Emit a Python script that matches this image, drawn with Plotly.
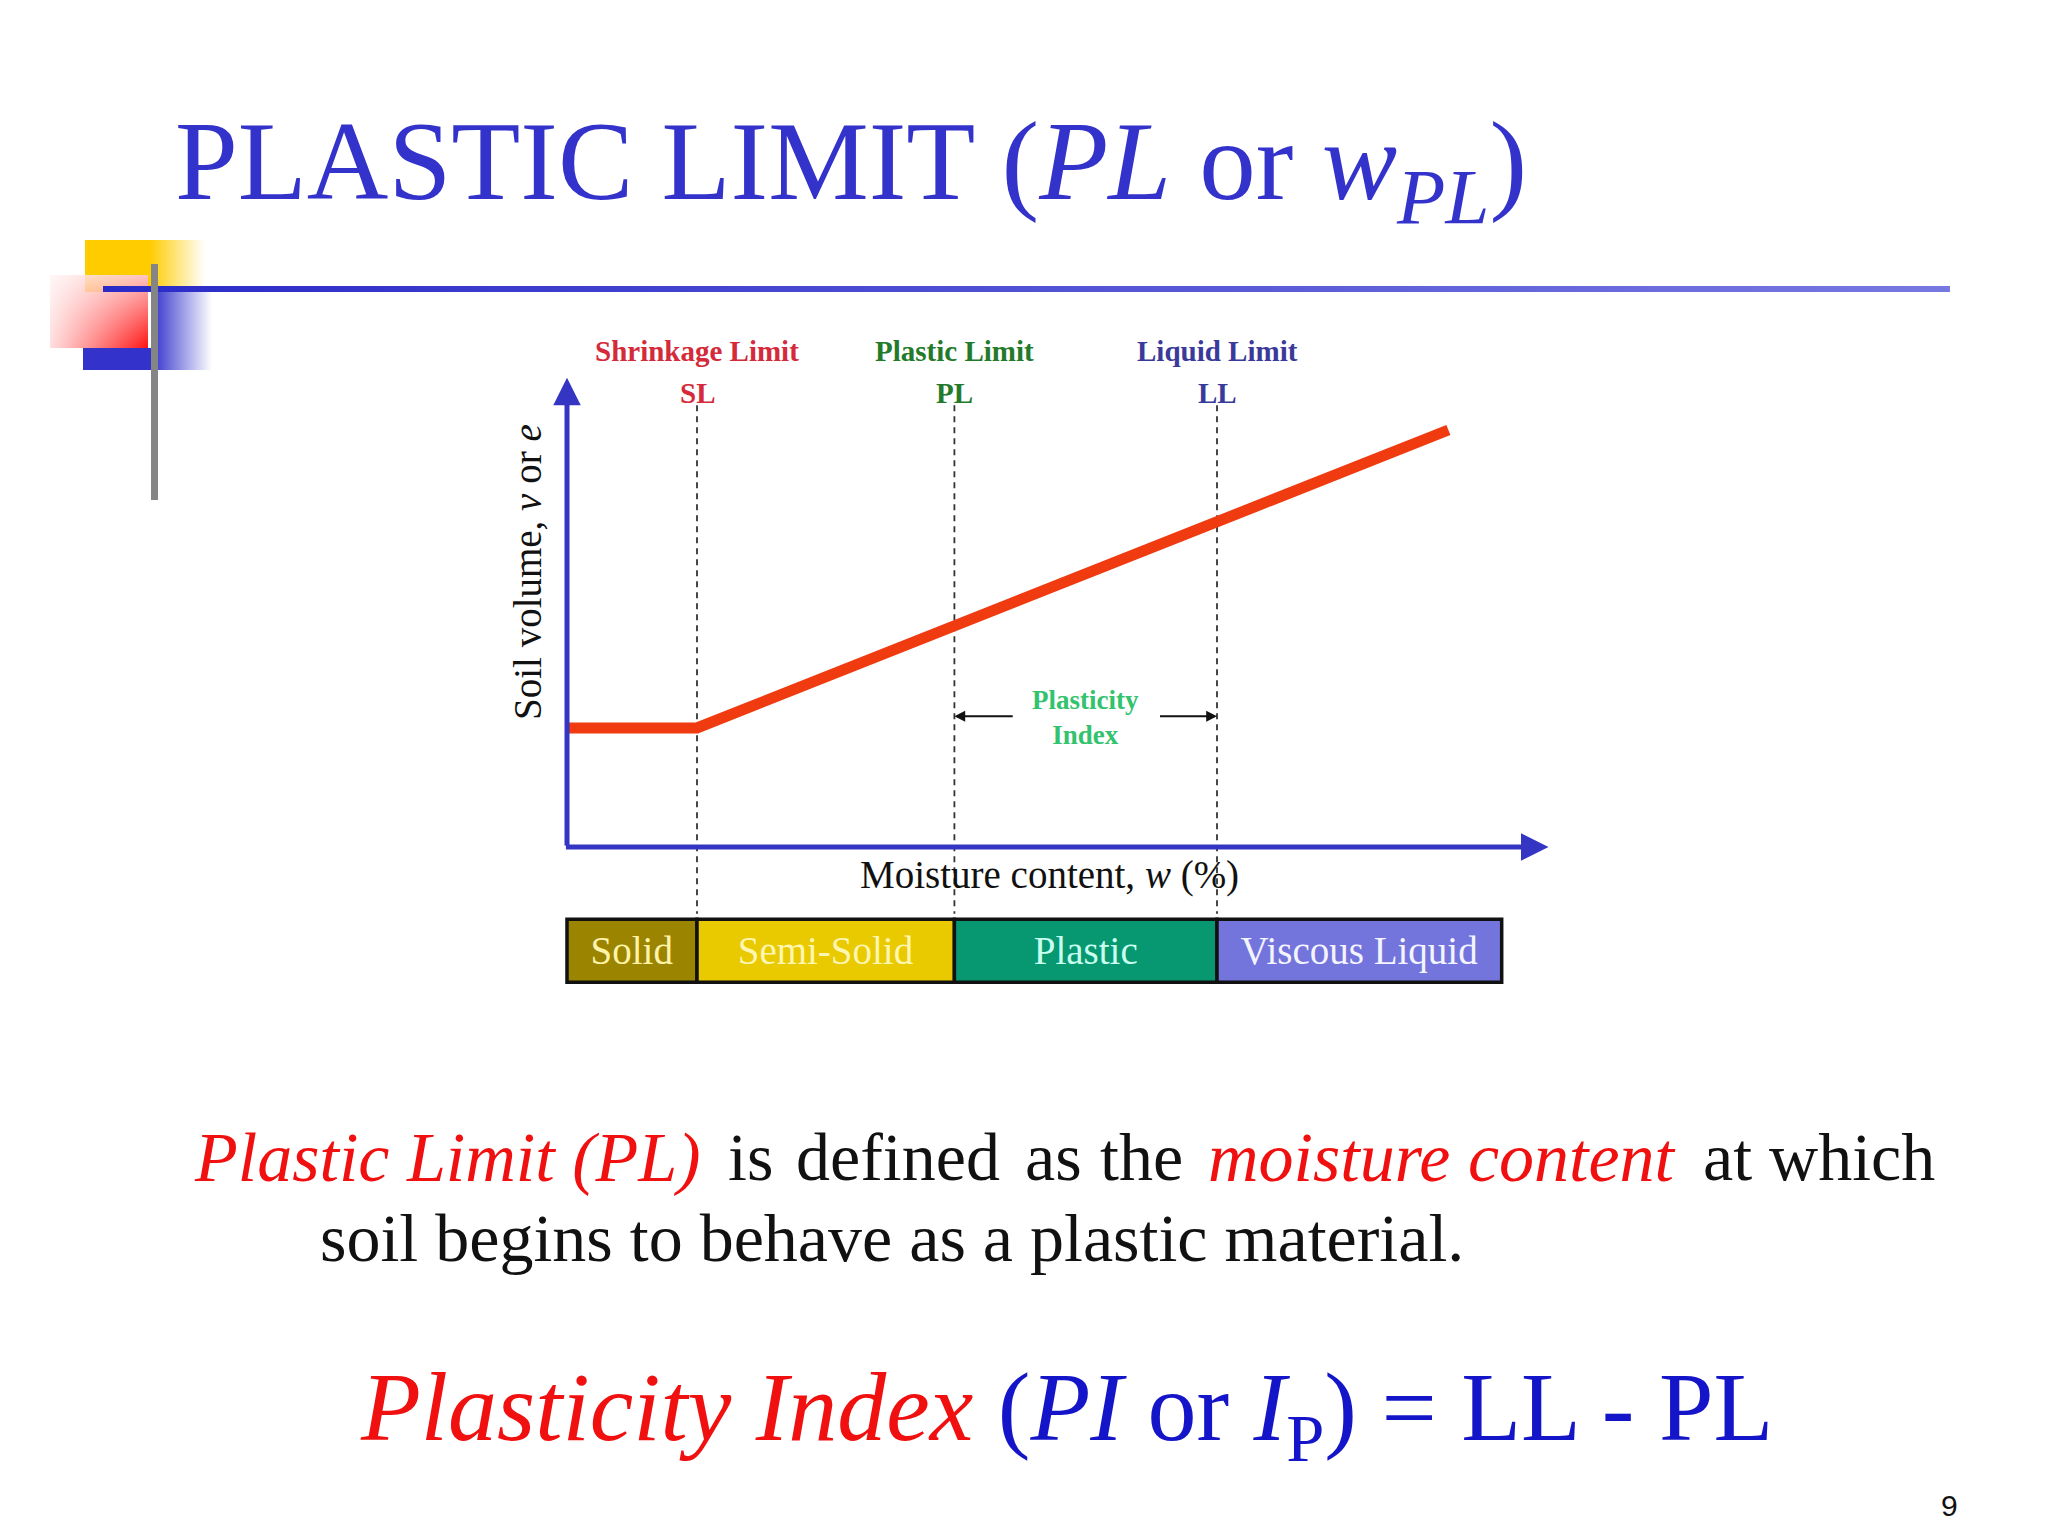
import plotly.graph_objects as go

# limits on the moisture-content axis (arbitrary units)
limit_abbr = ["SL", "PL", "LL"]
limit_names = ["Shrinkage Limit", "Plastic Limit", "Liquid Limit"]
limit_colors = ["#D42A3A", "#237A2A", "#3A3A9A"]
limit_w = [10.0, 29.8, 50.0]

# soil volume curve
curve_w = [0.0, 10.0, 67.8]
curve_v = [2.55, 2.55, 8.93]

# state bar below the axis
states = ["Solid", "Semi-Solid", "Plastic", "Viscous Liquid"]
state_start = [0.0, 10.0, 29.8, 50.0]
state_end = [10.0, 29.8, 50.0, 71.9]
state_colors = ["#9B8400", "#E9C900", "#079872", "#7474DD"]
state_text_colors = ["#FFF3A8", "#FFF6B0", "#C8FFEE", "#F4F4FF"]

W, H = 2048, 1536
SERIF = "Liberation Serif"
AXIS_BLUE = "#3535C4"

fig = go.Figure()

# ---------- page decorations (pixel coords on x2/y2) ----------
def grad_rect(x0, x1, y0, y1, kind, c0, c1):
    fig.add_trace(go.Scatter(
        x=[x0, x1, x1, x0, x0], y=[y0, y0, y1, y1, y0],
        xaxis="x2", yaxis="y2", mode="lines", line=dict(width=0),
        fill="toself", fillgradient=dict(type=kind, colorscale=[[0, c0], [1, c1]]),
        hoverinfo="skip"))

grad_rect(85, 150, 240, 292, "horizontal", "rgba(255,204,0,1)", "rgba(255,204,0,1)")
grad_rect(150, 205, 240, 292, "horizontal", "rgba(255,204,0,1)", "rgba(255,204,0,0)")
grad_rect(50, 148, 275, 348, "horizontal", "rgba(255,40,40,0.15)", "rgba(255,20,20,1)")
grad_rect(50, 148, 275, 348, "vertical", "rgba(255,255,255,0)", "rgba(255,255,255,0.75)")
grad_rect(83, 152, 348, 370, "horizontal", "rgba(51,51,204,1)", "rgba(51,51,204,1)")
grad_rect(152, 212, 292, 370, "horizontal", "rgba(51,51,204,1)", "rgba(51,51,204,0)")
grad_rect(103, 1950, 286, 292, "horizontal", "rgba(42,42,200,1)", "rgba(120,120,225,1)")

# ---------- chart ----------
for w in limit_w:
    fig.add_trace(go.Scatter(
        x=[w, w], y=[9.46, -1.43], mode="lines",
        line=dict(color="#333333", width=1.8, dash="6px,5px"), hoverinfo="skip"))

fig.add_trace(go.Scatter(
    x=curve_w, y=curve_v, mode="lines",
    line=dict(color="#F03A10", width=11), hoverinfo="skip"))

fig.add_trace(go.Bar(
    orientation="h", y=[-2.22] * len(states), base=state_start,
    x=[e - s for s, e in zip(state_start, state_end)], width=1.35,
    marker=dict(color=state_colors, line=dict(color="#111111", width=3.5)),
    text=states, textposition="inside", insidetextanchor="middle",
    constraintext="none",
    textfont=dict(family=SERIF, size=39, color=state_text_colors),
    hoverinfo="skip"))

ann = []
# axes with arrow heads
ann.append(dict(x=0, y=10.05, ax=0, ay=0, xref="x", yref="y", axref="x", ayref="y",
                text="", showarrow=True, arrowhead=2, arrowsize=1.1, arrowwidth=5,
                arrowcolor=AXIS_BLUE, standoff=0))
ann.append(dict(x=75.5, y=0, ax=-0.2, ay=0, xref="x", yref="y", axref="x", ayref="y",
                text="", showarrow=True, arrowhead=2, arrowsize=1.1, arrowwidth=5,
                arrowcolor=AXIS_BLUE, standoff=0))

for name, abbr, col, w in zip(limit_names, limit_abbr, limit_colors, limit_w):
    ann.append(dict(x=w, y=10.62, xref="x", yref="y", text="<b>%s</b>" % name,
                    showarrow=False, font=dict(family=SERIF, size=29, color=col)))
    ann.append(dict(x=w, y=9.72, xref="x", yref="y", text="<b>%s</b>" % abbr,
                    showarrow=False, font=dict(family=SERIF, size=29, color=col)))

mid = (limit_w[1] + limit_w[2]) / 2
ann.append(dict(x=mid, y=2.78, xref="x", yref="y", text="<b>Plasticity<br>Index</b>",
                showarrow=False, font=dict(family=SERIF, size=27, color="#33C26E")))
ann.append(dict(x=limit_w[1], y=2.8, ax=34.4, ay=2.8, xref="x", yref="y",
                axref="x", ayref="y", text="", showarrow=True, arrowhead=2,
                arrowsize=1.2, arrowwidth=1.8, arrowcolor="#111111", standoff=0))
ann.append(dict(x=limit_w[2], y=2.8, ax=45.5, ay=2.8, xref="x", yref="y",
                axref="x", ayref="y", text="", showarrow=True, arrowhead=2,
                arrowsize=1.2, arrowwidth=1.8, arrowcolor="#111111", standoff=0))

ann.append(dict(x=37.1, y=-0.6, xref="x", yref="y",
                text="Moisture content, <i>w</i> (%)", showarrow=False,
                font=dict(family=SERIF, size=39, color="#111111")))
ann.append(dict(x=-3.0, y=5.89, xref="x", yref="y", textangle=-90,
                text="Soil volume, <i>v</i> or <i>e</i>", showarrow=False,
                font=dict(family=SERIF, size=39, color="#111111")))

# ---------- slide text (pixel coords) ----------
def page_text(x, y, text, size, color, xanchor="left"):
    ann.append(dict(x=x, y=y, xref="x2", yref="y2", text=text, showarrow=False,
                    xanchor=xanchor, yanchor="middle",
                    font=dict(family=SERIF, size=size, color=color)))

page_text(173, 169, "PLASTIC LIMIT (<i>PL</i> or <i>w</i><sub><i>PL</i></sub>)", 113, "#3333CC")

RED = "#F01010"
# first line is justified in the slide, so place it word group by word group
line1 = [(192, "<i>Plastic Limit (PL)</i>", 70, RED),
         (726, "is", 68, "#111111"),
         (794, "defined", 68, "#111111"),
         (1023, "as", 68, "#111111"),
         (1098, "the", 68, "#111111"),
         (1206, "<i>moisture content</i>", 70, RED)]
for x, t, s, c in line1:
    page_text(x, 1157, t, s, c)
page_text(1937, 1157, "at which", 68, "#111111", xanchor="right")
page_text(318, 1238, "soil begins to behave as a plastic material.", 68, "#111111")

page_text(358, 1414,
          "<span style='color:%s'><i>Plasticity Index</i></span> (<i>PI</i> or <i>I</i><sub>P</sub>) = LL - PL" % RED,
          98, "#1414C8")

ann.append(dict(x=1949, y=1505, xref="x2", yref="y2", text="9", showarrow=False,
                font=dict(family="Liberation Sans", size=30, color="#111111")))

fig.add_shape(type="line", x0=154.5, x1=154.5, y0=264, y1=500, xref="x2", yref="y2",
              line=dict(color="#858585", width=7))

fig.update_layout(
    width=W, height=H, margin=dict(l=0, r=0, t=0, b=0),
    paper_bgcolor="white", plot_bgcolor="rgba(0,0,0,0)", showlegend=False,
    annotations=ann,
    xaxis=dict(domain=[515 / W, 1581 / W], range=[-4, 78], visible=False, fixedrange=True),
    yaxis=dict(domain=[1 - 1010.45 / H, 1 - 310 / H], range=[-3.5, 11.5], visible=False,
               fixedrange=True),
    xaxis2=dict(domain=[0, 1], range=[0, W], visible=False, anchor="y2", fixedrange=True),
    yaxis2=dict(domain=[0, 1], range=[H, 0], visible=False, anchor="x2", fixedrange=True),
)

# the page's default body margin would shift the whole slide by 8px
fig.write_html("out.html", config={"displayModeBar": False},
               post_script="document.body.style.margin='0px';")
